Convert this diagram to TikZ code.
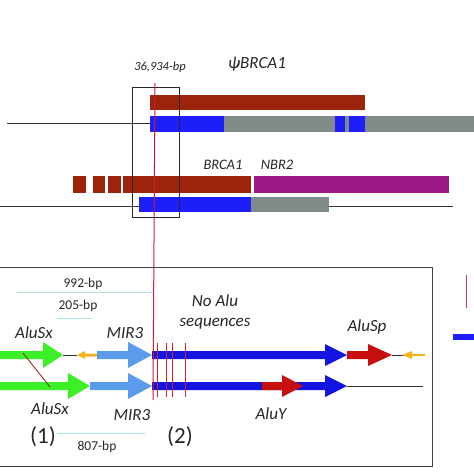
\documentclass[tikz,border=0pt]{standalone}
\usepackage{fontspec}
\setmainfont{Carlito}
\definecolor{brca}{RGB}{155,36,10}
\definecolor{exblue}{RGB}{30,30,250}
\definecolor{exgray}{RGB}{128,138,136}
\definecolor{nbr}{RGB}{155,25,135}
\definecolor{alugreen}{RGB}{60,240,40}
\definecolor{mirblue}{RGB}{90,155,235}
\definecolor{seqblue}{RGB}{20,20,225}
\definecolor{alured}{RGB}{200,15,15}
\definecolor{aluorange}{RGB}{245,180,30}
\definecolor{markred}{RGB}{210,30,50}
\definecolor{bpline}{RGB}{170,225,225}
\tikzset{
 genelbl/.style={inner sep=0pt,text=black!85,font=\itshape\fontsize{17}{19}\selectfont},
 smalllbl/.style={inner sep=0pt,text=black!85,font=\fontsize{13.5}{15}\selectfont},
 numlbl/.style={inner sep=0pt,text=black!85,font=\fontsize{23}{25}\selectfont},
 thinline/.style={line width=0.8pt,black!80},
 bpmark/.style={line width=0.9pt,bpline},
 cutline/.style={line width=0.9pt,markred},
}
\begin{document}
\begin{tikzpicture}[x=1pt,y=-1pt]
 \useasboundingbox (0,0) rectangle (474,474);
 % pseudogene
 \draw[thinline](7,123)--(150,123);
 \fill[brca](150,95) rectangle (365,110);
 \fill[exgray](224,116) rectangle (476,132);
 \fill[exblue](150,116) rectangle (224,132);
 \fill[exblue](335,116) rectangle (345,132);
 \fill[exblue](349,116) rectangle (365,132);
 \node[genelbl,font=\itshape\fontsize{12.5}{14}\selectfont] (bp36) at (160,67) {36,934-bp};
 \node[genelbl] (psi) at (257,64) {ψBRCA1};
 % BRCA1 and NBR2
 \draw[thinline](-2,206)--(453,206);
 \fill[brca](73,176) rectangle (86,193);
 \fill[brca](93,176) rectangle (105,193);
 \fill[brca](108,176) rectangle (121,193);
 \fill[brca](123,176) rectangle (251,193);
 \fill[nbr](254,176) rectangle (449,193);
 \fill[exblue](139,197) rectangle (251,212);
 \fill[exgray](251,197) rectangle (329,212);
 \node[genelbl,font=\itshape\fontsize{14.5}{16}\selectfont] (brca) at (223,165) {BRCA1};
 \node[genelbl,font=\itshape\fontsize{14.5}{16}\selectfont] (nbr2) at (277,165) {NBR2};
 \draw[line width=0.9pt,black!85](132,87) rectangle (179,217);
 % zoomed region
 \draw[line width=1pt,black!75](-2,267) rectangle (432,466);
 \draw[bpmark](17,292)--(152,292);
 \draw[bpmark](57,318)--(92,318);
 \draw[bpmark](57,433)--(145,433);
 \node[smalllbl] (bp992) at (83,284) {992-bp};
 \node[smalllbl] (bp205) at (78,306) {205-bp};
 \node[smalllbl] (bp807) at (97,447) {807-bp};
 % row 1
 \draw[thinline](63,355)--(77,355);
 \draw[thinline](392,355)--(425,355);
 \fill[alugreen](-2,351)--(43,351)--(43,342)--(63,355)--(43,368)--(43,359)--(-2,359)--cycle;
 \fill[aluorange](97,353.5)--(85,353.5)--(85,351)--(77,355)--(85,359)--(85,356.5)--(97,356.5)--cycle;
 \fill[mirblue](97,351)--(128,351)--(128,342)--(152,355)--(128,368)--(128,359)--(97,359)--cycle;
 \fill[seqblue](152,351)--(325,351)--(325,344)--(347,355)--(325,366)--(325,359)--(152,359)--cycle;
 \fill[alured](347,351)--(368,351)--(368,344)--(392,355)--(368,366)--(368,359)--(347,359)--cycle;
 \fill[aluorange](425,354)--(412,354)--(412,351)--(402,355)--(412,359)--(412,356)--(425,356)--cycle;
 % row 2
 \draw[thinline](347,386)--(423,386);
 \fill[alugreen](-2,382)--(68,382)--(68,373)--(90,386)--(68,399)--(68,390)--(-2,390)--cycle;
 \fill[mirblue](90,382)--(128,382)--(128,373)--(152,386)--(128,399)--(128,390)--(90,390)--cycle;
 \fill[seqblue](152,382)--(325,382)--(325,375)--(347,386)--(325,397)--(325,390)--(152,390)--cycle;
 \fill[alured](262,382)--(282,382)--(282,375)--(303,386)--(282,397)--(282,390)--(262,390)--cycle;
 % breakpoints
 \draw[line width=0.8pt,brca!90!black](23,353)--(50,387);
 \foreach \xb in {157,166,172,185}
  \draw[cutline](\xb,343)--(\xb,397);
 \draw[line width=1pt,markred!85!purple](155,83)--(153,400);
 \node[genelbl] (alusx1) at (34,333) {AluSx};
 \node[genelbl] (mir1) at (125,333) {MIR3};
 \node[genelbl] (alusx2) at (50,409) {AluSx};
 \node[genelbl] (mir2) at (132,415) {MIR3};
 \node[genelbl,align=center] (noalu) at (215,312) {No Alu\\[1pt]sequences};
 \node[genelbl] (alusp) at (367,327) {AluSp};
 \node[genelbl] (aluy) at (271,414) {AluY};
 \node[numlbl] (one) at (43,437) {(1)};
 \node[numlbl] (two) at (180,437) {(2)};
 % legend
 \draw[line width=0.8pt,markred!60!gray](466,275)--(466,308);
 \fill[exblue](453,334) rectangle (476,340);
\end{tikzpicture}
\end{document}
